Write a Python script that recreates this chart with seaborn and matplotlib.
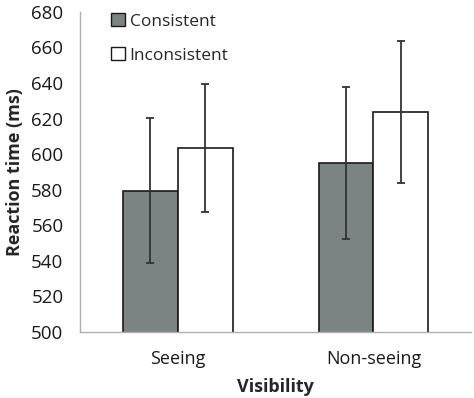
import matplotlib
matplotlib.use("Agg")
import matplotlib.pyplot as plt
import seaborn as sns
import pandas as pd
import numpy as np

visibility = ["Seeing", "Non-seeing"]
conditions = ["Consistent", "Inconsistent"]
consistent_rt = [579.5, 595]
inconsistent_rt = [603.5, 623.5]
consistent_err = [41, 43]
inconsistent_err = [36, 40]

df = pd.DataFrame({
    "Visibility": visibility * 2,
    "Condition": [conditions[0]] * 2 + [conditions[1]] * 2,
    "rt": consistent_rt + inconsistent_rt,
    "err": consistent_err + inconsistent_err,
})

sns.set_style("white")
plt.rcParams["font.family"] = ["Open Sans", "DejaVu Sans"]

fig = plt.figure(figsize=(4.74, 3.98), dpi=100)
ax = fig.add_axes([0.169, 0.166, 0.825, 0.804])

sns.barplot(data=df, x="Visibility", y="rt", hue="Condition", order=visibility,
            hue_order=conditions, palette=["#7a8584", "white"], width=0.56,
            errorbar=None, edgecolor="#1a1a1a", linewidth=1.2, ax=ax)

# error bars at the centre of each bar
for cont, cond in zip(ax.containers, conditions):
    sub = df[df["Condition"] == cond].set_index("Visibility").loc[visibility]
    xs = [p.get_x() + p.get_width() / 2 for p in cont.patches]
    ax.errorbar(xs, sub["rt"], yerr=sub["err"], fmt="none", ecolor="#333333",
                elinewidth=1.3, capsize=3, capthick=1.3)

ax.set_ylim(500, 680)
ax.set_yticks(np.arange(500, 681, 20))
ax.set_xlim(-0.5, 1.5)
ax.set_xticks([-0.5, 0.5, 1.5], minor=True)
ax.tick_params(axis="x", which="major", length=0, labelsize=13, pad=13)
ax.tick_params(axis="x", which="minor", length=5, color="#b0b0b0", width=1)
ax.tick_params(axis="y", length=6, color="#b0b0b0", width=1, labelsize=13.5, pad=6)
ax.tick_params(axis="both", labelcolor="#1a1a1a")

for side in ["top", "right"]:
    ax.spines[side].set_visible(False)
for side in ["left", "bottom"]:
    ax.spines[side].set_color("#b0b0b0")
    ax.spines[side].set_linewidth(1)

ax.set_xlabel("Visibility", fontsize=13, fontweight="bold", labelpad=7)
ax.set_ylabel("Reaction time (ms)", fontsize=13, fontweight="bold", labelpad=5)

leg = ax.legend(loc="upper left", bbox_to_anchor=(0.04, 1.045), frameon=False,
                fontsize=12.5, handlelength=0.8, handleheight=0.8,
                handletextpad=0.25, labelspacing=1.0)
for h in leg.legend_handles:
    h.set_edgecolor("#1a1a1a")
    h.set_linewidth(1)

fig.savefig("out.png", dpi=100)
